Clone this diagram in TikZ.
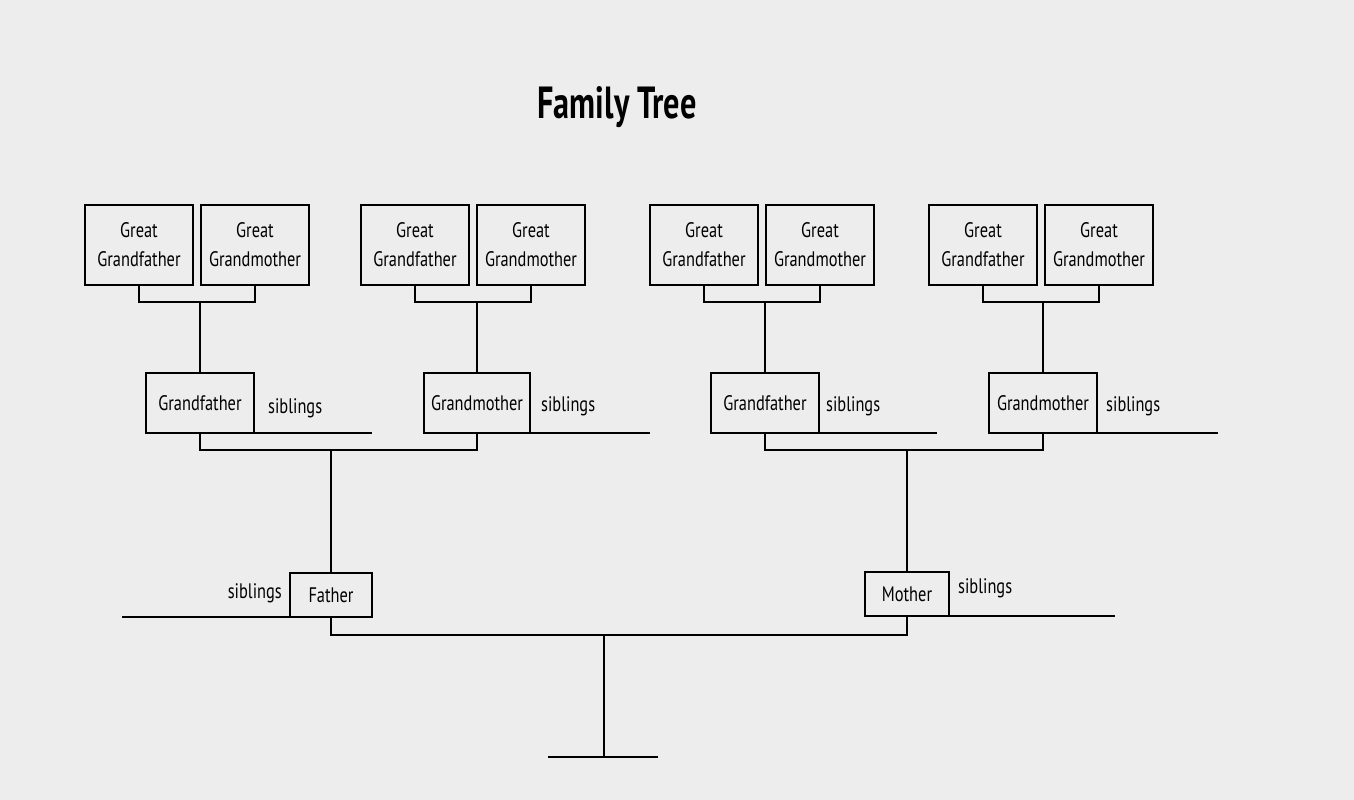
\documentclass[tikz,border=0pt]{standalone}
\usepackage{fontspec}
\setmainfont{PT Sans}[FakeStretch=0.78]
\usepackage{graphicx}
\definecolor{bg}{HTML}{EDEDED}
\begin{document}
\begin{tikzpicture}[x=1pt,y=-1pt,
  person/.style={draw=black,line width=1.6pt,inner sep=0pt,outer sep=0pt,align=center,
    font=\fontsize{21}{29}\selectfont,text=black},
  big/.style={person,minimum width=108pt,minimum height=80pt},
  mid/.style={person,minimum height=60pt},
  small/.style={person,minimum height=44pt},
  sib/.style={inner sep=0pt,font=\fontsize{21}{24}\selectfont,text=black},
  link/.style={line width=1.6pt,black}]
\fill[bg] (0,0) rectangle (1354,800);
\useasboundingbox (0,0) rectangle (1354,800);

\node[inner sep=0pt,anchor=base] (title) at (617,118)
  {\resizebox{159pt}{32pt}{\bfseries Family Tree}};

% great grandparents
\node[big] (ggf1) at (139,245) {Great\\Grandfather};
\node[big] (ggm1) at (255,245) {Great\\Grandmother};
\node[big] (ggf2) at (415,245) {Great\\Grandfather};
\node[big] (ggm2) at (531,245) {Great\\Grandmother};
\node[big] (ggf3) at (704,245) {Great\\Grandfather};
\node[big] (ggm3) at (820,245) {Great\\Grandmother};
\node[big] (ggf4) at (983,245) {Great\\Grandfather};
\node[big] (ggm4) at (1099,245) {Great\\Grandmother};

% grandparents
\node[mid,minimum width=108pt] (gf1) at (200,403) {Grandfather};
\node[mid,minimum width=106pt] (gm2) at (477,403) {Grandmother};
\node[mid,minimum width=108pt] (gf3) at (765,403) {Grandfather};
\node[mid,minimum width=108pt] (gm4) at (1043,403) {Grandmother};

\node[sib,anchor=west] (s1) at (268,408) {siblings};
\node[sib,anchor=west] (s2) at (541,406) {siblings};
\node[sib,anchor=west] (s3) at (826,406) {siblings};
\node[sib,anchor=west] (s4) at (1106,406) {siblings};

% parents
\node[small,minimum width=82pt] (father) at (331,595) {Father};
\node[small,minimum width=84pt] (mother) at (907,594) {Mother};
\node[sib,anchor=east] (s5) at (282,593) {siblings};
\node[sib,anchor=west] (s6) at (958,588) {siblings};

% free ends
\coordinate (e1) at (372,433);
\coordinate (e2) at (650,433);
\coordinate (e3) at (937,433);
\coordinate (e4) at (1218,433);
\coordinate (e5) at (122,617);
\coordinate (e6) at (1115,616);
\coordinate (rootTop) at (604,635);
\coordinate (rootBot) at (604,757);
\coordinate (baseL) at (548,757);
\coordinate (baseR) at (658,757);

% great grandparents -> grandparents
\foreach \a/\b/\c in {ggf1/ggm1/gf1,ggf2/ggm2/gm2,ggf3/ggm3/gf3,ggf4/ggm4/gm4}{
  \draw[link] (\a.south) -- ++(0,17) -| (\b.south);
  \draw[link] (\c.north) -- (\c.north |- 0,302);
}

% sibling lines
\draw[link] (gf1.south east) -- (e1);
\draw[link] (gm2.south east) -- (e2);
\draw[link] (gf3.south east) -- (e3);
\draw[link] (gm4.south east) -- (e4);
\draw[link] (father.south west) -- (e5);
\draw[link] (mother.south east) -- (e6);

% grandparents -> parents
\draw[link] (gf1.south) -- ++(0,17) -| (gm2.south);
\draw[link] (father.north) -- (father.north |- 0,450);
\draw[link] (gf3.south) -- ++(0,17) -| (gm4.south);
\draw[link] (mother.north) -- (mother.north |- 0,450);

% parents -> root
\draw[link] (father.south) -- (father.south |- rootTop) -| (mother.south);
\draw[link] (rootTop) -- (rootBot);
\draw[link] (baseL) -- (baseR);
\end{tikzpicture}
\end{document}
